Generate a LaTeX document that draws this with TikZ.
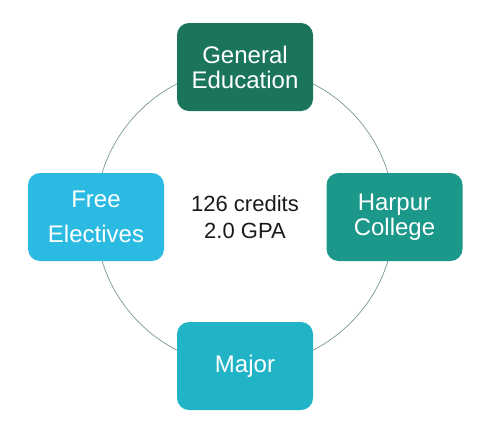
\documentclass[tikz,border=0pt]{standalone}
\usepackage{fontspec}
\setmainfont{Liberation Sans}
\definecolor{cGen}{RGB}{26,117,92}
\definecolor{cHar}{RGB}{27,152,138}
\definecolor{cFree}{RGB}{43,186,226}
\definecolor{cMaj}{RGB}{32,180,198}
\definecolor{cRing}{RGB}{120,150,150}
\begin{document}
\begin{tikzpicture}[x=1pt,y=-1pt,
  box/.style={rounded corners=12pt, minimum width=136pt, minimum height=88pt,
    inner sep=0pt, text=white, align=center, font=\fontsize{24}{25}\selectfont},
  ring/.style={draw=cRing, line width=0.7pt}]
\useasboundingbox (0,0) rectangle (503,432);
\coordinate (c) at (245,217);
\draw[ring] (c) circle[radius=149.5];
\node[box, fill=cGen] (gen) at (245,67) {General\\Education};
\node[box, fill=cHar] (har) at (394.5,217) {Harpur\\College};
\node[box, fill=cFree, font=\fontsize{24}{35}\selectfont] (free) at (96,217) {Free\\Electives};
\node[box, fill=cMaj] (maj) at (245,366) {Major};
\node[align=center, font=\fontsize{22}{27}\selectfont, text=black!90] (ctr) at (c) {126 credits\\2.0 GPA};
\end{tikzpicture}
\end{document}
